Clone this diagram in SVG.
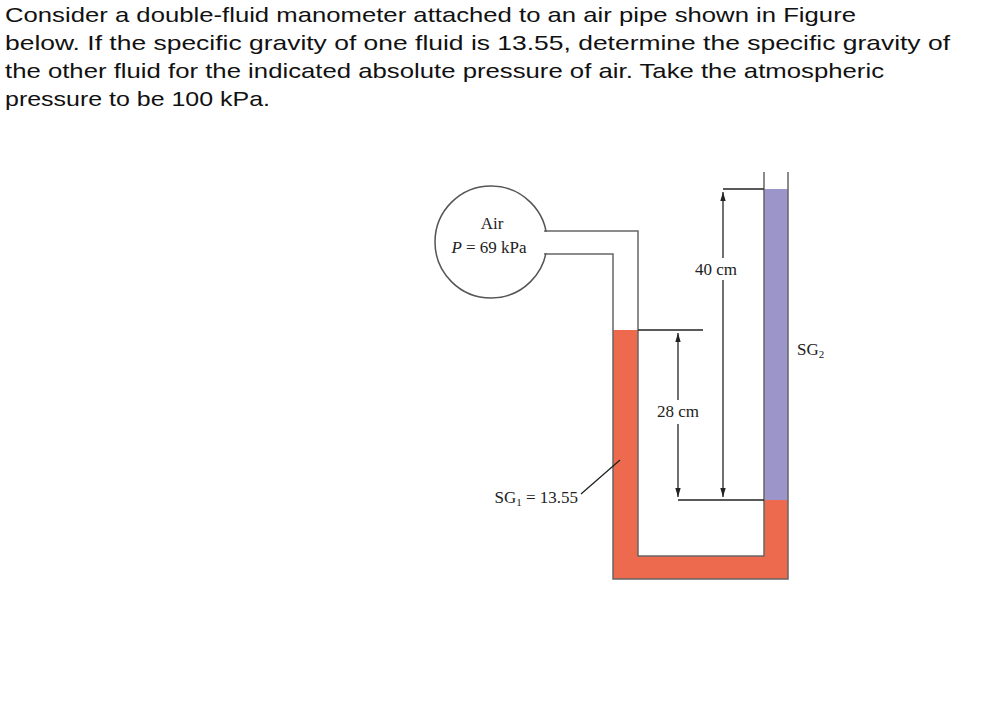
<svg xmlns="http://www.w3.org/2000/svg" width="993" height="708" viewBox="0 0 993 708">
<style>
.t{font-family:"Liberation Sans","Noto Sans",sans-serif;font-size:21px;fill:#111}
.f{font-family:"Liberation Serif",serif;font-size:17px;fill:#222}
.ln{stroke:#222;stroke-width:1.3;fill:none}
.tube{stroke:#666;stroke-width:1.5;fill:none}
</style>
<defs><marker id="a" viewBox="0 0 10 10" refX="10" refY="5" markerWidth="7" markerHeight="7" orient="auto-start-reverse"><path d="M0,2 L10,5 L0,8 z" fill="#222"/></marker></defs>
<rect width="993" height="708" fill="#fff"/>
<g id="title">
<text class="t" x="5" y="22" textLength="851" lengthAdjust="spacingAndGlyphs">Consider a double-fluid manometer attached to an air pipe shown in Figure</text>
<text class="t" x="5" y="50" textLength="945" lengthAdjust="spacingAndGlyphs">below. If the specific gravity of one fluid is 13.55, determine the specific gravity of</text>
<text class="t" x="5" y="78" textLength="879" lengthAdjust="spacingAndGlyphs">the other fluid for the indicated absolute pressure of air. Take the atmospheric</text>
<text class="t" x="5" y="106" textLength="265" lengthAdjust="spacingAndGlyphs">pressure to be 100 kPa.</text>
</g>
<g id="fluids">
<path d="M613,330 H638 V556 H764 V500 H788 V579 H613 Z" fill="#ee6a4e"/>
<rect x="764" y="189" width="24" height="311" fill="#9b95c9"/>
</g>
<g id="air">
<circle cx="491" cy="242" r="56" fill="#fff" stroke="#555" stroke-width="1.5"/>
<text class="f" x="492" y="229" text-anchor="middle">Air</text>
<text class="f" x="489" y="253" text-anchor="middle"><tspan font-style="italic">P</tspan> = 69 kPa</text>
</g>
<g id="tubes">
<rect x="541" y="232" width="10" height="21" fill="#fff"/>
<path class="tube" d="M544,231 H638 V556 H764 V172"/>
<path class="tube" d="M544,254 H613 V579 H788 V172"/>
</g>
<g id="connectors">
<path class="ln" d="M638,330 H703"/>
<path class="ln" d="M678,500 H764"/>
<path class="ln" d="M723,189 H764"/>
<path class="ln" d="M678,333 V400" marker-start="url(#a)"/>
<path class="ln" d="M678,424 V497" marker-end="url(#a)"/>
<path class="ln" d="M723,258 V192" marker-end="url(#a)"/>
<path class="ln" d="M723,280 V497" marker-end="url(#a)"/>
<path class="ln" d="M581,494 L620,460"/>
</g>
<g id="labels">
<text class="f" x="716" y="275" text-anchor="middle">40 cm</text>
<text class="f" x="678" y="417" text-anchor="middle">28 cm</text>
<text class="f" x="797" y="355">SG<tspan font-size="11" dy="3">2</tspan></text>
<text class="f" x="578" y="503" text-anchor="end">SG<tspan font-size="11" dy="3">1</tspan><tspan dy="-3"> = 13.55</tspan></text>
</g>
</svg>
